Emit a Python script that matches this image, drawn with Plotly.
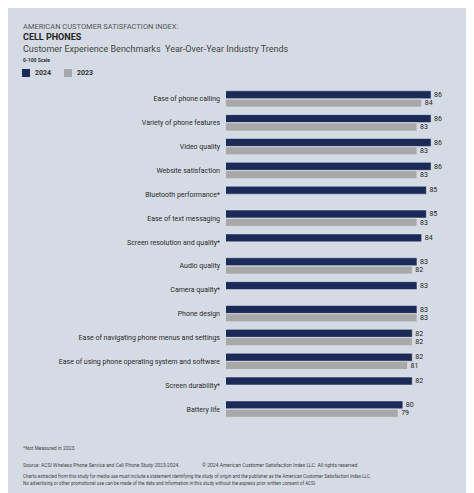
import plotly.graph_objects as go

categories = ["Ease of phone calling", "Variety of phone features", "Video quality", "Website satisfaction",
              "Bluetooth performance*", "Ease of text messaging", "Screen resolution and quality*", "Audio quality",
              "Camera quality*", "Phone design", "Ease of navigating phone menus and settings",
              "Ease of using phone operating system and software", "Screen durability*", "Battery life"]
v2024 = [86, 86, 86, 86, 85, 85, 84, 83, 83, 83, 82, 82, 82, 80]
v2023 = [84, 83, 83, 83, None, 83, None, 82, None, 83, 82, 81, None, 79]

W, H = 474, 493
NAVY, GRAY, BG = "#1b2a56", "#a8a8a8", "#d5dbe5"
F = "Roboto, Arial, sans-serif"

fig = go.Figure()
fig.add_bar(y=categories, x=v2024, orientation="h", name="2024", marker_color=NAVY,
            text=v2024, textposition="outside", textfont=dict(size=8, color="#222"), cliponaxis=False)
fig.add_bar(y=categories, x=v2023, orientation="h", name="2023", marker_color=GRAY,
            text=[("" if v is None else v) for v in v2023], textposition="outside",
            textfont=dict(size=8, color="#222"), cliponaxis=False)

def px(x): return x / W
def py(y): return 1 - y / H

ann = []
def t(x, y, s, size, color="#333", **kw):
    ann.append(dict(x=px(x), y=py(y), xref="paper", yref="paper", text=s, showarrow=False,
                    xanchor="left", yanchor="middle", font=dict(size=size, color=color, family=F), **kw))
t(13, 18, "AMERICAN CUSTOMER SATISFACTION INDEX:", 7.5, "#555")
t(13, 29, "<b>CELL PHONES</b>", 9, "#222")
t(13, 41, "Customer Experience Benchmarks  Year-Over-Year Industry Trends", 9, "#444")
t(13, 52, "<b>0-100 Scale</b>", 5, "#333")
t(25, 65, "<b>2024</b>", 7, "#333")
t(67, 65, "<b>2023</b>", 7, "#333")
t(13, 440, "*Not Measured in 2023.", 5, "#444")
t(13, 457, "Source: ACSI Wireless Phone Service and Cell Phone Study 2023-2024.", 5, "#444")
t(192, 457, "© 2024 American Customer Satisfaction Index LLC. All rights reserved.", 5, "#444")
t(13, 468, "Charts extracted from this study for media use must include a statement identifying the study of origin and the publisher as the American Customer Satisfaction Index LLC.", 4.6, "#444")
t(13, 475, "No advertising or other promotional use can be made of the data and information in this study without the express prior written consent of ACSI.", 4.6, "#444")

shapes = [
    dict(type="rect", xref="paper", yref="paper", x0=px(14), x1=px(22), y0=py(61), y1=py(69), fillcolor=NAVY, line_width=0),
    dict(type="rect", xref="paper", yref="paper", x0=px(56), x1=px(64), y0=py(61), y1=py(69), fillcolor=GRAY, line_width=0),
]

fig.update_layout(
    width=W, height=H, margin=dict(l=0, r=0, t=0, b=0), paper_bgcolor=BG, plot_bgcolor=BG,
    showlegend=False, barmode="group", bargap=0.3, bargroupgap=0.05,
    annotations=ann, shapes=shapes, font=dict(family=F),
    xaxis=dict(domain=[px(218), px(456)], range=[42.4, 93.0], visible=False),
    yaxis=dict(domain=[py(413), py(79)], autorange="reversed", ticks="", showline=False, showgrid=False,
               tickfont=dict(size=7, color="#2a2a2a"), ticklabelstandoff=5, automargin=False),
)
fig.write_html("out.html")
